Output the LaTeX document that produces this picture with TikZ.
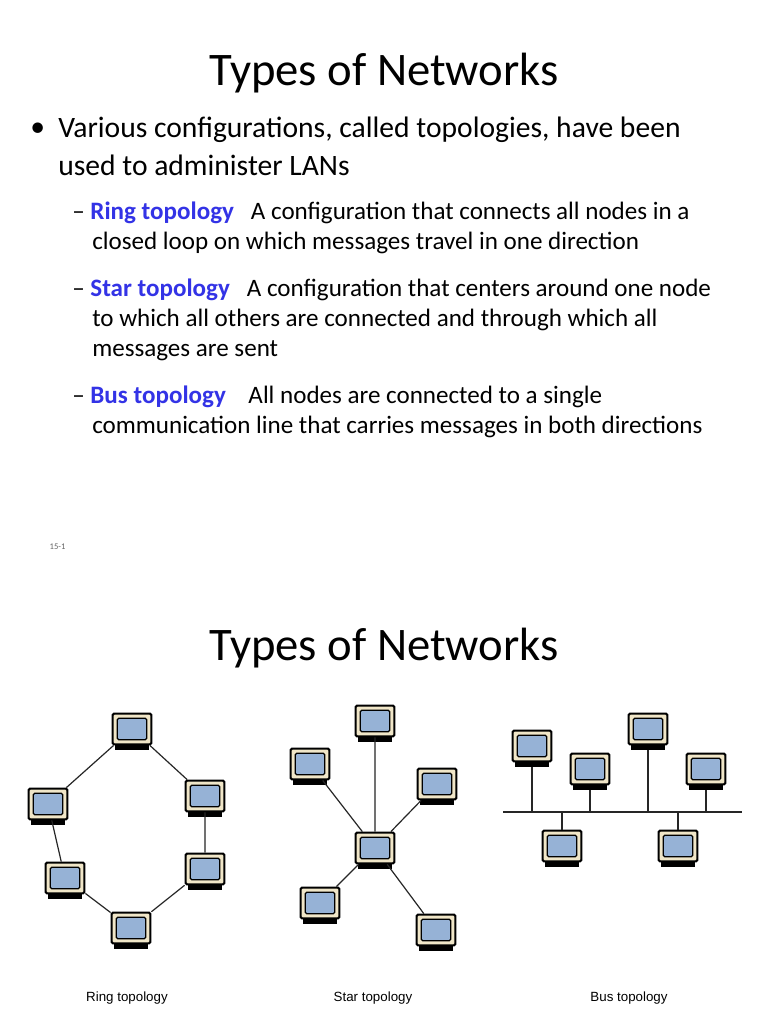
\documentclass[tikz,border=0pt]{standalone}
\usepackage{fontspec}
\setmainfont{Carlito}
\newfontfamily\arialf{Liberation Sans}
\begin{document}
\begin{tikzpicture}[x=0.75pt,y=-0.75pt,
  pc/.style={rectangle,draw=black,line width=1.6pt,fill=cream,minimum width=29pt,minimum height=23pt,inner sep=0pt,rounded corners=1pt,
    path picture={\draw[fill=screen,line width=0.9pt] ([shift={(3.5pt,3.5pt)}]path picture bounding box.south west) rectangle ([shift={(-3.5pt,-3.5pt)}]path picture bounding box.north east);}},
  link/.style={line width=0.9pt,black!85},
  tl/.style={font=\fontsize{35}{42}\selectfont,anchor=center},
  bt/.style={font=\fontsize{22.2}{26}\selectfont,anchor=west,inner sep=0pt},
  st/.style={font=\fontsize{18.8}{22}\selectfont,anchor=west,inner sep=0pt},
  lab/.style={font=\arialf\fontsize{10}{12}\selectfont}]
\definecolor{cream}{RGB}{240,230,200}
\definecolor{screen}{RGB}{150,178,214}
\definecolor{kwblue}{RGB}{51,51,230}
\useasboundingbox (0,0) rectangle (768,1024);
\fill[white] (0,0) rectangle (768,1024);
% slide 1
\node[tl] (t1) at (384,73) {Types of Networks};
\node[bt] (b0) at (30,130) {•};
\node[bt] (b1) at (58,130) {Various configurations, called topologies, have been};
\node[bt] (b2) at (58,165) {used to administer LANs};
\node[st] (r1) at (72,213) {– {\color{kwblue}\bfseries Ring topology}\ \ \ A configuration that connects all nodes in a};
\node[st] (r2) at (92,243) {closed loop on which messages travel in one direction};
\node[st] (s1) at (72,290) {– {\color{kwblue}\bfseries Star topology}\ \ \ A configuration that centers around one node};
\node[st] (s2) at (92,320) {to which all others are connected and through which all};
\node[st] (s3) at (92,351) {messages are sent};
\node[st] (u1) at (72,397) {– {\color{kwblue}\bfseries Bus topology}\ \ \ \ All nodes are connected to a single};
\node[st] (u2) at (92,427) {communication line that carries messages in both directions};
\node[font=\fontsize{6.5}{8}\selectfont,text=black!60,anchor=west] (pg) at (45,547) {15-1};
% slide 2
\node[tl] (t2) at (384,648) {Types of Networks};
\foreach \n/\x/\y in {ra/132/731,rb/205/798,rc/205/871,rd/131/930,re/65/880,rf/48/806,
  sa/375/723,sb/310/766,sc/437/786,sd/375/850,se/320/905,sf/436/932,
  ua/532/748,ub/590/771,uc/648/731,ud/706/771,ue/562/848,uf/678/848}
  \node[pc] (\n) at (\x,\y-2) {};
\foreach \n in {ra,rb,rc,rd,re,rf,sa,sb,sc,sd,se,sf,ua,ub,uc,ud,ue,uf}
  \fill[black] ([shift={(2.5pt,0.3pt)}]\n.south west) rectangle ([shift={(-2.5pt,-3.2pt)}]\n.south east);
\draw[link] (ra)--(rb) (rb)--(rc) (rc)--(rd) (rd)--(re) (re)--(rf) (rf)--(ra);
\draw[link] (sd)--(sa) (sd)--(sb) (sd)--(sc) (sd)--(se) (sd)--(sf);
\coordinate (bl) at (503,812); \coordinate (br) at (742,812);
\draw[link,line width=1.1pt] (bl)--(br);
\foreach \n in {ua,ub,uc,ud} \draw[link] ([yshift=-3.2pt]\n.south)--(\n.south|-bl);
\foreach \n in {ue,uf} \draw[link] (\n.north)--(\n.north|-bl);
\node[lab] (l1) at (127,998) {Ring topology};
\node[lab] (l2) at (373,998) {Star topology};
\node[lab] (l3) at (629,998) {Bus topology};
\end{tikzpicture}
\end{document}
